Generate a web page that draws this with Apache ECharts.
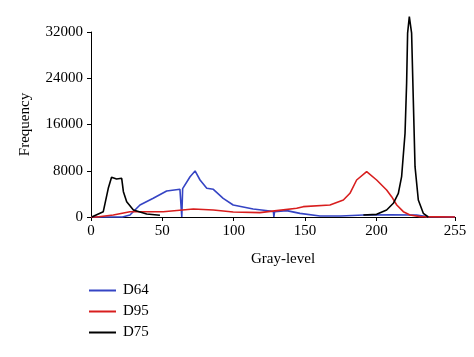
<!DOCTYPE html>
<html><head><meta charset="utf-8">
<script src="https://cdn.jsdelivr.net/npm/echarts@6/dist/echarts.min.js"></script>
<style>html,body{margin:0;padding:0;background:#fff}#c{width:474px;height:357px}</style>
</head><body><div id="c"></div>
<script>
const xTicks = [0, 50, 100, 150, 200, 255];
const yTicks = [0, 8000, 16000, 24000, 32000];

const d64X = [0, 22, 27.3, 34.3, 43.6, 53, 62.3, 63.4, 63.6, 64.2, 64.7, 69.4, 72.9, 76.4, 81.1, 85.7, 92.6, 99.6, 113.6, 125.4, 127.8, 128.1, 128.6, 137.1, 146.4, 160.4, 175, 190.8, 210, 228, 235, 255];
const d64Y = [0, 0, 350, 2080, 3230, 4500, 4790, 4800, 0, 4900, 5240, 6970, 7960, 6400, 4960, 4790, 3230, 2080, 1380, 1040, 900, 0, 900, 1100, 630, 170, 170, 350, 380, 350, 60, 0];

const d95X = [0, 4, 15.6, 27.3, 50.6, 71.7, 85.7, 99.6, 118.3, 130.1, 144.1, 148.7, 167.4, 176.8, 181.4, 186.1, 193.1, 200.1, 207.1, 210.6, 214.2, 218.8, 223.5, 230.5, 255];
const d95Y = [0, 0, 350, 920, 920, 1380, 1200, 860, 750, 1100, 1500, 1790, 2080, 2940, 4100, 6400, 7840, 6400, 4670, 3520, 2080, 920, 350, 60, 0];

const d75X = [0.5, 1.6, 8.6, 12.1, 14.4, 17.9, 21.5, 22.7, 25, 29.7, 39, 48.3, null, 190.8, 200.1, 207.1, 211.8, 215.3, 217.6, 220, 221.1, 221.8, 223, 224.6, 225.8, 227, 229.3, 232.8, 236.3];
const d75Y = [0, 0, 920, 4960, 6860, 6570, 6690, 4380, 2650, 1210, 520, 290, null, 350, 460, 1210, 2370, 4100, 6970, 14480, 23100, 31800, 34650, 31800, 20200, 8700, 2940, 640, 0];

function pairs(xs, ys) {
  return xs.map((x, i) => x === null ? ['-', '-'] : [x, ys[i]]);
}

const font = 'Liberation Serif';
const chart = echarts.init(document.getElementById('c'));
chart.setOption({
  animation: false,
  grid: { left: 91, right: 19, top: 32, bottom: 140 },
  legend: {
    orient: 'vertical', left: 89, top: 283, itemGap: 6, padding: 0,
    itemWidth: 27, itemHeight: 2, icon: 'rect',
    textStyle: { fontFamily: font, fontSize: 15, lineHeight: 15, color: '#000', padding: [0, 0, 0, 2] },
    data: ['D64', 'D95', 'D75']
  },
  xAxis: {
    type: 'value', min: 0, max: 255,
    name: 'Gray-level', nameLocation: 'middle', nameGap: 35,
    nameTextStyle: { fontFamily: font, fontSize: 15, color: '#000', padding: [0, 0, 0, 20] },
    axisLine: { lineStyle: { color: '#000', width: 1 } },
    axisTick: { show: true, length: 4, customValues: xTicks, lineStyle: { color: '#000' } },
    axisLabel: { customValues: xTicks, fontFamily: font, fontSize: 15, color: '#000', margin: 7 },
    splitLine: { show: false }
  },
  yAxis: {
    type: 'value', min: 0, max: 32000, interval: 8000,
    name: 'Frequency', nameLocation: 'middle', nameGap: 58,
    nameTextStyle: { fontFamily: font, fontSize: 15, color: '#000' },
    axisLine: { show: true, lineStyle: { color: '#000', width: 1 } },
    axisTick: { show: true, length: 4, lineStyle: { color: '#000' } },
    axisLabel: { customValues: yTicks, fontFamily: font, fontSize: 15, color: '#000', margin: 8, formatter: v => String(v) },
    splitLine: { show: false }
  },
  series: [
    { name: 'D64', type: 'line', symbol: 'none', clip: false, data: pairs(d64X, d64Y),
      lineStyle: { color: '#3544c4', width: 1.6 }, itemStyle: { color: '#3544c4' } },
    { name: 'D95', type: 'line', symbol: 'none', clip: false, data: pairs(d95X, d95Y),
      lineStyle: { color: '#d81e1e', width: 1.6 }, itemStyle: { color: '#d81e1e' } },
    { name: 'D75', type: 'line', symbol: 'none', clip: false, data: pairs(d75X, d75Y),
      lineStyle: { color: '#000', width: 1.6 }, itemStyle: { color: '#000' } }
  ]
});
</script></body></html>
